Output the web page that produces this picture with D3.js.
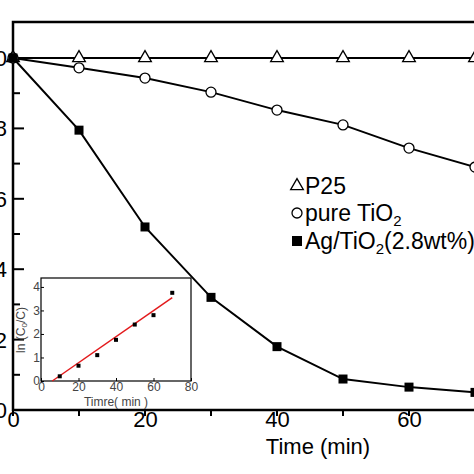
<!DOCTYPE html>
<html><head><meta charset="utf-8">
<script src="https://cdn.jsdelivr.net/npm/d3@7"></script>
<style>body{margin:0;background:#fff}text{font-family:"Liberation Sans",Arial,sans-serif}</style>
</head><body>
<script>
const width = 474, height = 474;
const times = [0, 10, 20, 30, 40, 50, 60, 70];
const p25 = [1, 1, 1, 1, 1, 1, 1, 1];
const pureTiO2 = [1, 0.972, 0.943, 0.903, 0.852, 0.81, 0.744, 0.69];
const agTiO2 = [1, 0.795, 0.52, 0.32, 0.18, 0.088, 0.065, 0.05];
const xTicks = [0, 20, 40, 60];
const yTicks = [0, 0.2, 0.4, 0.6, 0.8, 1.0];
const insetT = [10, 20, 30, 40, 50, 60, 70];
const insetLn = [0.2, 0.65, 1.1, 1.75, 2.4, 2.8, 3.75];
const fitT = [6, 70];
const fitLn = [0, 3.55];

const svg = d3.select("body").append("svg").attr("width", width).attr("height", height);
const x = d3.scaleLinear().domain([0, 70]).range([13, 475]);
const y = d3.scaleLinear().domain([0, 1]).range([410, 58]);

// frame
svg.append("rect").attr("x", 13).attr("y", 22).attr("width", 480).attr("height", 388)
  .attr("fill", "none").attr("stroke", "#000").attr("stroke-width", 2.5);

const xa = svg.append("g").attr("transform", "translate(0,410)")
  .call(d3.axisBottom(x).tickValues(xTicks).tickSize(0).tickPadding(1));
xa.select(".domain").remove();
xa.selectAll("text").attr("font-size", 22).attr("fill", "#000");
svg.selectAll(".xt").data(d3.range(0, 71, 10)).join("line")
  .attr("x1", d => x(d)).attr("x2", d => x(d)).attr("y1", 410).attr("y2", 416)
  .attr("stroke", "#000").attr("stroke-width", 2);

svg.selectAll(".yt").data(d3.range(0, 11)).join("line")
  .attr("x1", 13).attr("x2", d => d % 2 ? 20 : 24)
  .attr("y1", d => y(d / 10)).attr("y2", d => y(d / 10))
  .attr("stroke", "#000").attr("stroke-width", 2);
svg.selectAll(".yl").data(yTicks).join("text")
  .attr("x", 7).attr("y", d => y(d) + 8).attr("text-anchor", "end")
  .attr("font-size", 22).text(d => d.toFixed(1));

svg.append("text").attr("x", 318).attr("y", 454).attr("text-anchor", "middle")
  .attr("font-size", 22).text("Time (min)");

const line = d3.line().x(d => x(d[0])).y(d => y(d[1]));
[p25, pureTiO2, agTiO2].forEach(s => {
  svg.append("path").attr("d", line(times.map((t, i) => [t, s[i]])))
    .attr("fill", "none").attr("stroke", "#000").attr("stroke-width", 2);
});
const tri = d3.symbol().type(d3.symbolTriangle).size(70);
svg.selectAll(".p25").data(times).join("path")
  .attr("transform", (d, i) => `translate(${x(d)},${y(p25[i])})`).attr("d", tri)
  .attr("fill", "#fff").attr("stroke", "#000").attr("stroke-width", 1.3);
svg.selectAll(".pt").data(times).join("circle")
  .attr("cx", d => x(d)).attr("cy", (d, i) => y(pureTiO2[i])).attr("r", 5)
  .attr("fill", "#fff").attr("stroke", "#000").attr("stroke-width", 1.3);
svg.selectAll(".ag").data(times).join("rect")
  .attr("x", d => x(d) - 4.5).attr("y", (d, i) => y(agTiO2[i]) - 4.5)
  .attr("width", 9).attr("height", 9).attr("fill", "#000");

// legend
const lg = svg.append("g").attr("font-size", 23);
lg.append("path").attr("transform", "translate(297,186)").attr("d", tri)
  .attr("fill", "#fff").attr("stroke", "#000").attr("stroke-width", 1.3);
lg.append("text").attr("x", 305).attr("y", 194).text("P25");
lg.append("circle").attr("cx", 297).attr("cy", 213).attr("r", 5)
  .attr("fill", "#fff").attr("stroke", "#000").attr("stroke-width", 1.3);
const t2 = lg.append("text").attr("x", 305).attr("y", 221).text("pure TiO");
t2.append("tspan").attr("font-size", 15).attr("dy", 5).text("2");
lg.append("rect").attr("x", 292).attr("y", 236).attr("width", 10).attr("height", 10);
const t3 = lg.append("text").attr("x", 305).attr("y", 249).text("Ag/TiO");
t3.append("tspan").attr("font-size", 15).attr("dy", 5).text("2");
t3.append("tspan").attr("dy", -5).text("(2.8wt%)");

// inset
const ix = d3.scaleLinear().domain([0, 80]).range([41, 191]);
const iy = d3.scaleLinear().domain([0, 4.38]).range([381, 278]);
svg.append("rect").attr("x", 41).attr("y", 278).attr("width", 150).attr("height", 103)
  .attr("fill", "#fff").attr("stroke", "#000").attr("stroke-width", 1.2);
const ixa = svg.append("g").attr("transform", "translate(0,381)")
  .call(d3.axisBottom(ix).tickValues([0, 20, 40, 60, 80]).tickFormat(d3.format("d")).tickSize(-3).tickPadding(1));
ixa.select(".domain").remove();
ixa.selectAll("text").attr("font-size", 12).attr("fill", "#444");
const iya = svg.append("g").attr("transform", "translate(41,0)")
  .call(d3.axisLeft(iy).tickValues([0, 1, 2, 3, 4]).tickFormat(d3.format("d")).tickSize(-3).tickPadding(1));
iya.select(".domain").remove();
iya.selectAll("text").attr("font-size", 12).attr("fill", "#444");
svg.append("text").attr("x", 116).attr("y", 406).attr("text-anchor", "middle")
  .attr("font-size", 12).attr("fill", "#444").text("Timre( min )");
const yl = svg.append("text").attr("transform", "translate(25,330) rotate(-90)")
  .attr("text-anchor", "middle").attr("font-size", 12).attr("fill", "#444").text("ln (C");
yl.append("tspan").attr("font-size", 8).attr("dy", 2).text("0");
yl.append("tspan").attr("dy", -2).text("/C)");
svg.append("line").attr("x1", ix(fitT[0])).attr("y1", iy(fitLn[0]))
  .attr("x2", ix(fitT[1])).attr("y2", iy(fitLn[1])).attr("stroke", "#e31a1c").attr("stroke-width", 1.5);
svg.selectAll(".ip").data(insetT).join("rect")
  .attr("x", d => ix(d) - 2).attr("y", (d, i) => iy(insetLn[i]) - 2)
  .attr("width", 4).attr("height", 4).attr("fill", "#000");
</script>
</body></html>
